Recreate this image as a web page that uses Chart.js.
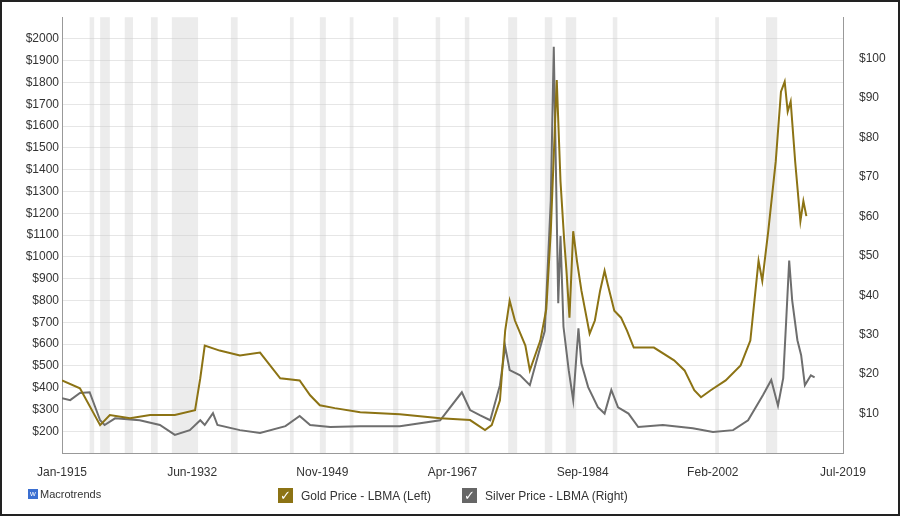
<!DOCTYPE html>
<html>
<head>
<meta charset="utf-8">
<script src="https://cdn.jsdelivr.net/npm/chart.js@4"></script>
<style>
  body { margin:0; background:#fff; font-family:"Liberation Sans", Arial, sans-serif; }
  #wrap { position:relative; width:896px; height:512px; border:2px solid #222; overflow:hidden; }
  canvas { position:absolute; left:0; top:0; }
  .leg { position:absolute; top:486px; font-size:12px; color:#333; display:flex; align-items:center; }
  .box { width:15px; height:15px; margin-right:8px; color:#fff; font-size:13px; line-height:15px; text-align:center; }
</style>
</head>
<body>
<div id="wrap">
  <canvas id="chart" width="896" height="512"></canvas>
  <div class="leg" style="left:26px;font-size:11px"><span class="box" style="width:10px;height:10px;background:#3b6fd1;margin-right:2px;font-size:8px;line-height:10px">w</span>Macrotrends</div>
  <div class="leg" style="left:276px"><span class="box" style="background:#8c7314">&#10003;</span>Gold Price - LBMA (Left)</div>
  <div class="leg" style="left:460px"><span class="box" style="background:#666">&#10003;</span>Silver Price - LBMA (Right)</div>
</div>
<script>
var goldYears = [1915,1917.4,1920.1,1921.4,1924.1,1926.8,1930.1,1932.8,1933.5,1934.1,1936.1,1938.8,1941.5,1944.2,1946.8,1948.2,1949.5,1951.5,1954.9,1960.2,1965.6,1969.6,1971.6,1972.5,1973.6,1974.3,1974.9,1975.6,1977.0,1977.6,1979.0,1979.8,1980.4,1981.2,1981.7,1982.2,1982.5,1982.9,1983.4,1983.9,1984.5,1985.6,1986.3,1987.0,1987.6,1988.0,1988.9,1989.8,1990.6,1991.5,1994.2,1996.9,1998.3,1999.6,2000.5,2001.8,2003.8,2005.8,2007.1,2008.2,2008.7,2009.5,2010.5,2011.2,2011.7,2012.1,2012.5,2013.1,2013.8,2014.2,2014.6];
var goldValues = [433,397,228,274,260,274,274,296,443,593,570,548,561,443,433,365,319,306,287,278,260,251,205,228,342,662,799,708,593,479,616,760,1118,1812,1347,1073,936,721,1118,982,845,648,708,845,936,877,753,721,662,584,584,525,479,388,356,388,433,502,616,982,890,1118,1438,1758,1804,1667,1713,1438,1164,1256,1187];
var silverYears = [1915,1916.1,1917.4,1918.7,1920.1,1920.7,1922.1,1925.4,1928.1,1930.1,1932.1,1933.5,1934.1,1935.2,1935.8,1938.8,1941.5,1944.9,1946.8,1948.2,1950.9,1954.9,1960.2,1965.6,1968.5,1969.6,1970.9,1972.3,1973.6,1974.3,1974.9,1976.3,1977.6,1979.6,1980.4,1980.8,1981.4,1981.7,1982.1,1982.8,1983.4,1984.1,1984.5,1985.4,1986.7,1987.6,1988.5,1989.4,1990.8,1992.1,1995.4,1999.4,2002.1,2004.8,2006.8,2008.8,2009.9,2010.8,2011.5,2011.9,2012.3,2012.7,2013.4,2013.9,2014.4,2015.2,2015.7];
var silverValues = [13.9,13.4,15.2,15.4,8.3,7.1,8.8,8.3,7.1,4.6,5.8,8.3,7.1,10.1,7.1,5.8,5.1,6.8,9.4,7.1,6.6,6.8,6.8,8.3,15.4,10.9,9.6,8.3,17.2,27,21,19.7,17.2,31,64,103,38,55,32,21,13.4,31.6,22.7,16.7,11.6,10,16,11.6,10,6.6,7.1,6.3,5.3,5.8,8.3,14.7,18.5,12,19,33.6,48.8,38.7,28.6,24.8,17.2,19.7,19.2];
var goldTicks = [200,300,400,500,600,700,800,900,1000,1100,1200,1300,1400,1500,1600,1700,1800,1900,2000];
var silverTicks = [10,20,30,40,50,60,70,80,90,100];
var xTicks = [1915,1932.42,1949.83,1967.25,1984.67,2002.08,2019.5];
var xLabels = ['Jan-1915','Jun-1932','Nov-1949','Apr-1967','Sep-1984','Feb-2002','Jul-2019'];
var recessions = [[1918.7,1919.3],[1920.1,1921.4],[1923.4,1924.5],[1926.9,1927.8],[1929.7,1933.2],[1937.6,1938.5],[1945.5,1946],[1949.5,1950.3],[1953.5,1954],[1959.3,1960],[1965,1965.6],[1968.9,1969.5],[1974.7,1975.9],[1979.6,1980.6],[1982.4,1983.8],[1988.7,1989.3],[2002.4,2002.9],[2009.2,2010.7]];

function pts(xs, ys) { return xs.map(function(x, i){ return {x: x, y: ys[i]}; }); }

var bands = {
  id: 'bands',
  beforeDatasetsDraw: function(chart) {
    var c = chart.ctx, a = chart.chartArea, xs = chart.scales.x;
    c.save();
    c.fillStyle = 'rgba(200,200,200,0.35)';
    recessions.forEach(function(r){
      var l = xs.getPixelForValue(r[0]), rr = xs.getPixelForValue(r[1]);
      c.fillRect(l, a.top, rr - l, a.bottom - a.top);
    });
    c.restore();
  }
};

new Chart(document.getElementById('chart'), {
  type: 'line',
  data: { datasets: [
    { label: 'Gold', data: pts(goldYears, goldValues), yAxisID: 'y', borderColor: '#8c7314', borderWidth: 2, pointRadius: 0, tension: 0 },
    { label: 'Silver', data: pts(silverYears, silverValues), yAxisID: 'y2', borderColor: '#6e6e6e', borderWidth: 2, pointRadius: 0, tension: 0 }
  ]},
  plugins: [bands],
  options: {
    responsive: false, animation: false,
    layout: { padding: { top: 14 } },
    plugins: { legend: { display: false }, tooltip: { enabled: false } },
    scales: {
      x: { type: 'linear', min: 1915, max: 2019.5,
        afterBuildTicks: function(s){ s.ticks = xTicks.map(function(v){ return {value: v}; }); },
        afterFit: function(s){ s.height = 61; },
        ticks: { autoSkip: false, maxRotation: 0, color: '#333', font: { size: 12, family: 'Liberation Sans' }, padding: 4,
          callback: function(v, i){ return xLabels[i]; } },
        grid: { display: false }, border: { color: '#999' } },
      y: { position: 'left', min: 100, max: 2100,
        afterBuildTicks: function(s){ s.ticks = goldTicks.map(function(v){ return {value: v}; }); },
        afterFit: function(s){ s.width = 60; },
        ticks: { color: '#333', font: { size: 12, family: 'Liberation Sans' }, callback: function(v){ return '$' + v; } },
        grid: { color: '#e6e6e6', drawTicks: false }, border: { color: '#999' } },
      y2: { position: 'right', min: 0, max: 110.5,
        afterBuildTicks: function(s){ s.ticks = silverTicks.map(function(v){ return {value: v}; }); },
        afterFit: function(s){ s.width = 55; },
        ticks: { color: '#333', font: { size: 12, family: 'Liberation Sans' }, padding: 8, callback: function(v){ return '$' + v; } },
        grid: { display: false }, border: { color: '#999' } }
    }
  }
});
</script>
</body>
</html>
